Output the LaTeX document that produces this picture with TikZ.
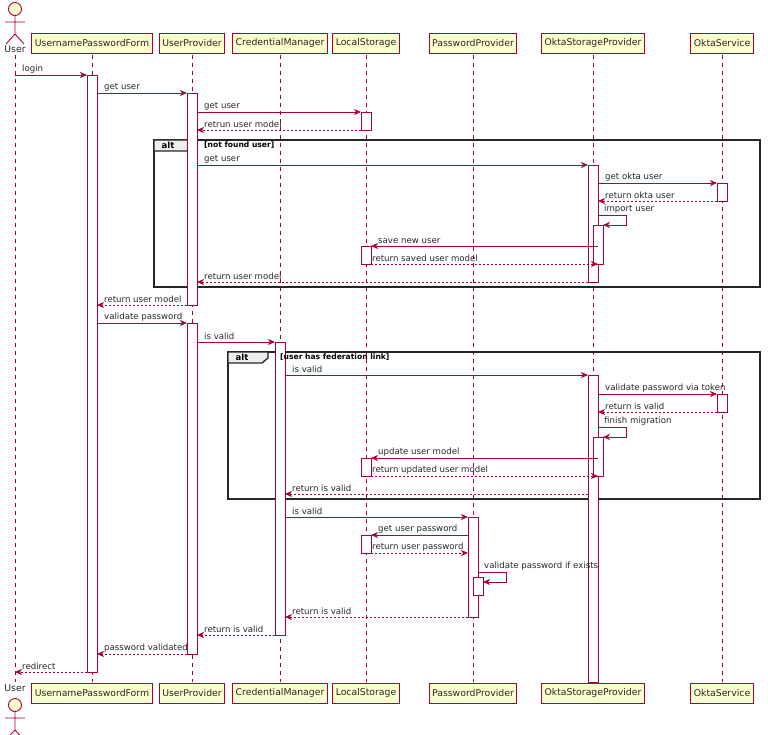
\documentclass[tikz,border=0pt]{standalone}
\usepackage{fontspec}
\setmainfont{DejaVu Sans}
\usetikzlibrary{arrows.meta}
\definecolor{pu}{HTML}{A80036}
\definecolor{bx}{HTML}{FEFECE}
\tikzset{
  part/.style={draw=pu,fill=bx,line width=0.8pt,minimum height=20pt,inner xsep=3pt,font=\fontsize{9.3}{11}\selectfont,text=black!85},
  life/.style={draw=pu,dash pattern=on 4pt off 4pt,line width=0.6pt},
  bar/.style={draw=pu,fill=white,line width=0.7pt},
  msg/.style={draw=pu,line width=0.7pt,-{Stealth[length=7pt,width=6pt,inset=2pt]}},
  ret/.style={msg,dash pattern=on 2pt off 2pt},
  lbl/.style={anchor=south west,inner sep=1pt,font=\fontsize{8.6}{10}\selectfont,text=black!85},
  frame/.style={draw=black!85,line width=1.3pt},
  actor/.style={draw=pu,line width=0.9pt},
  guard/.style={font=\bfseries\fontsize{7.6}{9}\selectfont,anchor=west,inner sep=0},
}
\newcommand{\mm}[5]{\draw[#5] (#1,-#3) -- (#2,-#3);
  \pgfmathsetmacro{\lx}{min(#1,#2)+6}\node[lbl] at (\lx pt,-#3 pt+1pt) {#4};}
\newcommand{\bb}[3]{\draw[bar] (#1-5,-#2) rectangle (#1+5,-#3);}
\newcommand{\selfm}[5]{\draw[msg] (#1,-#3) -- (#2,-#3) -- (#2,-#4) -- (#1+5,-#4);
  \node[lbl] at (#1pt+5pt,-#3 pt+1pt) {#5};}
\newcommand{\act}[1]{\draw[actor,fill=bx] (15,-#1) circle (6.5);
  \draw[actor] (15,-#1-7) -- (15,-#1-25) (5,-#1-13) -- (25,-#1-13) (6,-#1-35) -- (15,-#1-25) -- (24,-#1-35);}
\begin{document}
\begin{tikzpicture}[x=1pt,y=1pt]
\useasboundingbox (0,0) rectangle (768,-735);
% lifelines
\foreach \x in {15,92,192,280,366,473,593,722} \draw[life] (\x,-55) -- (\x,-682);
% participants
\foreach \x/\n/\t in {92/upf/UsernamePasswordForm,192/up/UserProvider,280/cm/CredentialManager,366/ls/LocalStorage,473/pp/PasswordProvider,593/osp/OktaStorageProvider,722/os/OktaService}{
  \node[part] (\n) at (\x,-43) {\t};
  \node[part] (\n b) at (\x,-693) {\t};
}
\act{9}
\node[font=\fontsize{9.3}{11}\selectfont,text=black!85] (u) at (15,-49) {User};
\node[font=\fontsize{9.3}{11}\selectfont,text=black!85] (ub) at (15,-688) {User};
\act{705}
% frames
\draw[frame] (154,-140) rectangle (760,-287);
\draw[frame,fill=black!7] (154,-140) -- (194,-140) -- (194,-146) -- (188,-151) -- (154,-151) -- cycle;
\node[font=\bfseries\fontsize{8.5}{10}\selectfont] at (168,-145.5) {alt};
\draw[frame] (228,-352) rectangle (760,-499);
\draw[frame,fill=black!7] (228,-352) -- (268,-352) -- (268,-358) -- (262,-363) -- (228,-363) -- cycle;
\node[font=\bfseries\fontsize{8.5}{10}\selectfont] at (242,-357.5) {alt};
% bars
\bb{92}{75}{672}
\bb{192}{93}{305}
\bb{192}{323}{654}
\bb{366}{112}{130}
\bb{366}{246}{264}
\bb{366}{458}{476}
\bb{366}{535}{553}
\bb{593}{165}{282}
\bb{598}{225}{264}
\bb{593}{375}{682}
\bb{598}{437}{476}
\bb{722}{183}{201}
\bb{722}{394}{412}
\bb{280}{342}{635}
\bb{473}{517}{617}
\bb{478}{577}{595}
\node[guard] at (204,-145.5) {[not found user]};
\node[guard] at (280,-357.5) {[user has federation link]};
% messages
\mm{15}{87}{75}{login}{msg}
\mm{97}{187}{93}{get user}{msg}
\mm{197}{361}{112}{get user}{msg}
\mm{361}{197}{130}{retrun user model}{ret}
\mm{197}{588}{165}{get user}{msg}
\mm{598}{717}{183}{get okta user}{msg}
\mm{717}{598}{201}{return okta user}{ret}
\selfm{598}{626}{215}{225}{import user}
\mm{598}{371}{246}{save new user}{msg}
\draw[ret] (371,-264) -- (598,-264);
\node[lbl] at (371pt,-263pt) {return saved user model};
\mm{588}{197}{282}{return user model}{ret}
\mm{187}{97}{305}{return user model}{ret}
\mm{97}{187}{323}{validate password}{msg}
\mm{197}{275}{342}{is valid}{msg}
\mm{285}{588}{375}{is valid}{msg}
\mm{598}{717}{394}{validate password via token}{msg}
\mm{717}{598}{412}{return is valid}{ret}
\selfm{598}{626}{427}{437}{finish migration}
\mm{598}{371}{458}{update user model}{msg}
\draw[ret] (371,-476) -- (598,-476);
\node[lbl] at (371pt,-475pt) {return updated user model};
\mm{588}{285}{494}{return is valid}{ret}
\mm{285}{468}{517}{is valid}{msg}
\mm{468}{371}{535}{get user password}{msg}
\draw[ret] (371,-553) -- (468,-553);
\node[lbl] at (371pt,-552pt) {return user password};
\selfm{478}{506}{572}{582}{validate password if exists}
\mm{468}{285}{617}{return is valid}{ret}
\mm{275}{197}{635}{return is valid}{ret}
\mm{187}{97}{654}{password validated}{ret}
\mm{87}{15}{672}{redirect}{ret}
\end{tikzpicture}
\end{document}
